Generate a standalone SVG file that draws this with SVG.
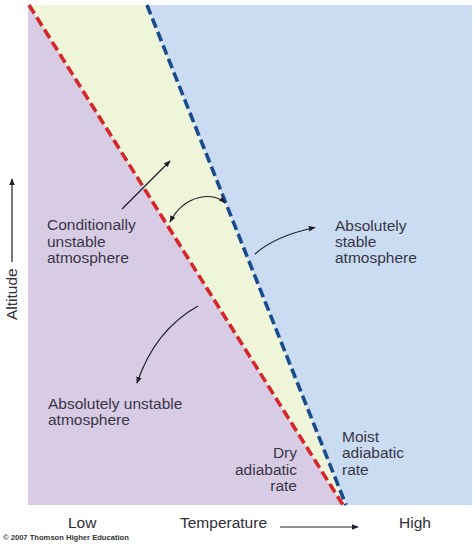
<svg xmlns="http://www.w3.org/2000/svg" width="474" height="545" viewBox="0 0 474 545">
<defs>
<style>
.lbl{font-family:"Liberation Sans",Arial,sans-serif;font-size:15.5px;fill:#3a3646}
.ax{font-family:"Liberation Sans",Arial,sans-serif;font-size:15.5px;fill:#2e2e36}
.cp{font-family:"Liberation Sans",Arial,sans-serif;font-size:7.6px;font-weight:bold;fill:#333}
.arr{fill:none;stroke:#1e1e2c;stroke-width:1.2}
.dry{fill:none;stroke:#d6262b;stroke-width:3.6;stroke-dasharray:10 4.5}
.moist{fill:none;stroke:#1b4b8f;stroke-width:3.6;stroke-dasharray:10 4.5}
</style>
<marker id="ah" viewBox="0 0 10 10" refX="9" refY="5" markerWidth="7" markerHeight="7" markerUnits="userSpaceOnUse" orient="auto-start-reverse">
<path d="M0,1 L10,5 L0,9 z" fill="#1e1e2c"/>
</marker>
</defs>
<rect width="474" height="545" fill="#ffffff"/>
<g id="regions">
<polygon id="unstable" points="28,5 29,5 343,505 28,505" fill="#d8cce5"/>
<polygon id="conditional" points="29,5 147,5 346,505 343,505" fill="#eff5d9"/>
<polygon id="stable" points="147,5 472,5 472,505 346,505" fill="#c9dcf2"/>
</g>
<g id="dry-line"><line class="dry" x1="29" y1="5" x2="343" y2="505"/></g>
<g id="moist-line"><line class="moist" x1="147" y1="5" x2="346" y2="505"/></g>
<g id="connectors">
<line class="arr" x1="122" y1="209" x2="170" y2="161" marker-end="url(#ah)"/>
<path class="arr" d="M225,203 C215,192 185,193 170,222" marker-start="url(#ah)" marker-end="url(#ah)"/>
<path class="arr" d="M255,254 Q275,236 315,227.5" marker-end="url(#ah)"/>
<path class="arr" d="M198,306 Q155,330 137,383" marker-end="url(#ah)"/>
<line class="arr" x1="280" y1="527" x2="358" y2="527" marker-end="url(#ah)"/>
<line class="arr" x1="12" y1="262" x2="12" y2="179" marker-end="url(#ah)"/>
</g>
<g id="cond-label">
<text class="lbl" x="47" y="230">Conditionally</text>
<text class="lbl" x="47" y="247">unstable</text>
<text class="lbl" x="47" y="263">atmosphere</text>
</g>
<g id="stable-label">
<text class="lbl" x="335" y="231">Absolutely</text>
<text class="lbl" x="335" y="247">stable</text>
<text class="lbl" x="335" y="263">atmosphere</text>
</g>
<g id="unstable-label">
<text class="lbl" x="48" y="409">Absolutely unstable</text>
<text class="lbl" x="48" y="425">atmosphere</text>
</g>
<g id="dry-label">
<text class="lbl" x="297" y="458" text-anchor="end">Dry</text>
<text class="lbl" x="297" y="475" text-anchor="end">adiabatic</text>
<text class="lbl" x="297" y="491" text-anchor="end">rate</text>
</g>
<g id="moist-label">
<text class="lbl" x="342" y="442">Moist</text>
<text class="lbl" x="342" y="458">adiabatic</text>
<text class="lbl" x="342" y="475">rate</text>
</g>
<g id="axes">
<text class="ax" x="68" y="528">Low</text>
<text class="ax" x="180" y="528">Temperature</text>
<text class="ax" x="399" y="528">High</text>
<text class="ax" transform="translate(17,320) rotate(-90)">Altitude</text>
</g>
<text class="cp" x="3" y="540">© 2007 Thomson Higher Education</text>
</svg>
